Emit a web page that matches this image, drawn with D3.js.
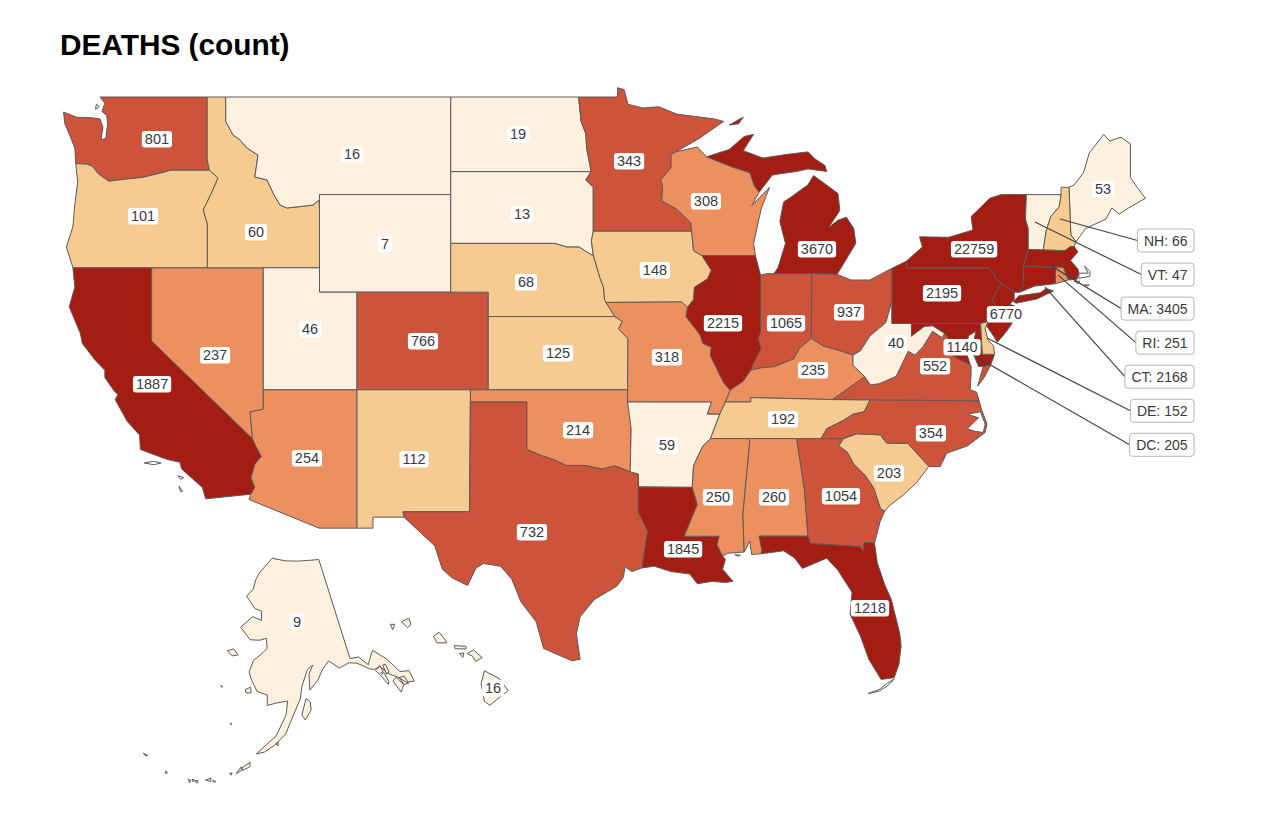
<!DOCTYPE html>
<html><head><meta charset="utf-8">
<script src="https://cdn.jsdelivr.net/npm/d3@7"></script>
<style>html,body{margin:0;background:#fff}svg{display:block}text{font-family:"Liberation Sans",Arial,sans-serif}</style>
</head><body><svg id="c" width="1278" height="828"></svg>
<script>
// ---------- values ----------
const stateNames=["WA","OR","CA","NV","ID","MT","WY","UT","AZ","CO","NM","ND","SD","NE","KS","OK","TX","MN","IA","MO","AR","LA","WI","IL","MI","IN","OH","KY","TN","MS","AL","GA","FL","SC","NC","VA","WV","PA","NY","ME","NJ","MD","AK","HI"];
const stateValues=[801,101,1887,237,60,16,7,46,254,766,112,19,13,68,125,214,732,343,148,318,59,1845,308,2215,3670,1065,937,235,192,250,260,1054,1218,203,354,552,40,2195,22759,53,6770,1140,9,16];
const labelLon=[-119.72,-120.46,-119.98,-116.62,-114.44,-109.32,-107.56,-111.56,-111.72,-105.53,-106.01,-100.46,-100.25,-100.04,-98.33,-97.26,-99.72,-94.54,-93.16,-92.52,-92.52,-91.66,-90.44,-89.53,-84.52,-86.17,-82.81,-84.73,-86.33,-89.8,-86.81,-83.24,-81.69,-80.68,-78.44,-78.22,-80.3,-77.85,-76.14,-69.26,-74.44,-76.78,-151.9,-155.5];
const labelLat=[47.28,44.12,37.24,38.43,43.47,46.66,42.98,39.49,34.2,39,34.16,47.48,44.2,41.42,38.51,35.35,31.17,46.38,41.91,38.34,34.74,30.48,44.74,39.74,42.77,39.74,40.19,37.81,35.8,32.61,32.61,32.65,28.06,33.59,35.23,37.98,38.92,40.97,42.77,45.23,40.11,38.75,65.3,19.6];
const calloutNames=["NH","VT","MA","RI","CT","DE","DC"];
const calloutValues=[66,47,3405,251,2168,152,205];
const calloutLon=[-71.56,-72.89,-72.09,-71.66,-72.36,-75.45,-76.2];
const calloutLat=[44.0,43.88,42.11,41.7,41.21,39.12,38.43];
const bandBreaks=[60,210,330,1100];
const bandColors=["#fdf0df","#f5cb92","#ec9060","#cd533b","#a31d12"];
const titleText="DEATHS (count)";

// ---------- shared borders, lon/lat ----------
const r=a=>[...a].reverse();
const waCoast=[[-122.76,49],[-122.5,48.75],[-122.65,48.4],[-122.4,48.25],[-122.35,47.9],[-122.45,47.3],[-122.7,47.25],[-122.6,47.75],[-122.75,48.1],[-123.2,48.15],[-124,48.17],[-124.7,48.38],[-124.63,47.9],[-124.3,47.3],[-124.1,46.9],[-124.05,46.27]];
const columbia=[[-124.05,46.27],[-123.45,46.25],[-123.15,46.15],[-122.85,45.85],[-122.3,45.55],[-121.2,45.65],[-120.5,45.7],[-119.3,45.93],[-119,46],[-116.92,46]];
const snake=[[-116.92,46],[-116.46,45.68],[-116.85,45],[-117.25,44.37],[-117.03,43.8],[-117.03,42]];
const orCoast=[[-124.05,46.27],[-123.95,45.5],[-124.1,44.6],[-124.2,43.7],[-124.55,42.85],[-124.2,42]];
const bitterroot=[[-116.05,48],[-115.66,47.44],[-115.3,47.25],[-114.9,46.9],[-114.33,46.62],[-114.5,45.72],[-113.85,45.6],[-113.45,44.95],[-113.15,44.57],[-112.78,44.45],[-111.4,44.57],[-111.07,44.78],[-111.05,44.47]];
const caCoast=[[-124.2,42],[-124.1,41.2],[-124.4,40.4],[-123.8,39.3],[-123.7,38.9],[-123,38.2],[-122.5,37.8],[-122.5,37.5],[-122,36.95],[-121.8,36.8],[-121.95,36.6],[-121.3,35.7],[-120.65,35.15],[-120.6,34.55],[-119.2,34.15],[-118.5,34.03],[-118.4,33.75],[-117.3,33],[-117.12,32.53]];
const coloradoRiver=[[-114.72,32.72],[-114.5,33],[-114.7,33.4],[-114.5,33.95],[-114.15,34.27],[-114.45,34.7],[-114.63,35]];
const redNorth=[[-97.23,49],[-97.1,48],[-96.85,47.5],[-96.8,46.9],[-96.56,45.94]];
const sdMN=[[-96.56,45.94],[-96.85,45.6],[-96.45,45.3],[-96.45,43.5]];
const sdIA=[[-96.45,43.5],[-96.55,43.1],[-96.44,42.49]];
const sdSouth=[[-104.05,43],[-98.5,43],[-97.85,42.85],[-97.2,42.85],[-96.7,42.6],[-96.44,42.49]];
const moNE_IA=[[-96.44,42.49],[-96.25,42],[-96.1,41.6],[-95.9,41.2],[-95.85,40.7],[-95.77,40.58]];
const moNE_MO=[[-95.77,40.58],[-95.3,40]];
const moKS=[[-95.3,40],[-94.9,39.8],[-95.1,39.5],[-94.6,39.1]];
const redSouth=[[-94.48,33.64],[-95.3,33.88],[-96,33.75],[-96.9,33.9],[-97.9,33.9],[-98.5,34.12],[-99.2,34.3],[-100,34.56]];
const sabine=[[-94.04,31.99],[-93.55,31.2],[-93.7,30.5],[-93.85,29.7]];
const missMN=[[-92.8,44.75],[-92,44.4],[-91.25,43.85],[-91.2,43.5]];
const missIAWI=[[-91.2,43.5],[-91.1,42.7],[-90.65,42.5]];
const missIAIL=[[-90.65,42.5],[-90.15,41.9],[-90.35,41.55],[-91.05,41.2],[-91.1,40.7],[-91.42,40.38]];
const missMOIL=[[-91.42,40.38],[-91.5,40],[-90.75,39.25],[-90.6,38.9],[-90.15,38.75],[-90.2,38.4],[-89.5,37.3],[-89.15,36.98]];
const missTN=[[-89.4,36.5],[-89.7,36]];
const missARTN=[[-89.7,36],[-90.2,35]];
const missARMS=[[-90.2,35],[-90.6,34.7],[-91.1,33.9],[-91.17,33]];
const missLAMS=[[-91.17,33],[-90.9,32.3],[-91.6,31],[-89.73,31],[-89.85,30.65],[-89.55,30.18]];
const ohioIL=[[-89.15,36.98],[-88.45,37.35],[-88.05,37.8]];
const ohioIN=[[-88.05,37.8],[-87.5,37.9],[-86.8,37.95],[-86.3,38.1],[-85.75,38.27],[-85.45,38.7],[-84.82,39.1]];
const ohioOH=[[-84.82,39.1],[-84.2,38.8],[-83.3,38.6],[-82.6,38.42]];
const ohioWV=[[-82.6,38.42],[-82.2,38.6],[-81.7,39.2],[-80.85,39.75],[-80.52,40.64]];
const wabash=[[-87.53,39.35],[-87.65,39.1],[-87.5,38.7],[-87.95,38],[-88.05,37.8]];
const savannah=[[-83.1,35],[-83.35,34.7],[-82.9,34.45],[-82.55,33.95],[-81.95,33.5],[-81.5,33],[-81.12,32.12],[-80.9,32.03]];
const ncSC=[[-83.1,35],[-82.4,35.2],[-81.05,35.15],[-81.05,35.05],[-80.8,34.82],[-79.67,34.8],[-78.55,33.86]];
const tnNC=[[-81.68,36.59],[-82,36.1],[-82.6,36],[-83.1,35.75],[-84,35.4],[-84.3,35]];
const potomac=[[-76.3,38],[-76.95,38.25],[-77.3,38.4],[-77.05,38.8],[-77.5,39.1],[-77.72,39.32]];
const vaWV=[[-77.72,39.32],[-77.83,39.13],[-78.35,39.4],[-78.87,38.76],[-79.3,38.42],[-79.65,38.58],[-80.3,37.55],[-81.2,37.25],[-81.68,37.2],[-81.97,37.54]];
const delaware=[[-75.35,42],[-75.05,41.75],[-75.05,41.6],[-74.7,41.36]];
const delawareNJ=[[-74.7,41.36],[-75.05,40.85],[-75.2,40.68],[-74.75,40.2],[-75.15,39.9],[-75.4,39.8]];
const vtRiver=[[-71.5,45],[-71.6,44.5],[-72.05,44.1],[-72.3,43.5],[-72.45,42.73]];

// ---------- outlines, lon/lat ----------
const outlines={
WA:[[[-122.76,49],[-117.04,49],[-117.04,46.42],...r(columbia),...r(waCoast)]],
OR:[[...columbia,...snake,[-124.2,42],...r(orCoast)]],
CA:[[...caCoast,[-114.72,32.72],...coloradoRiver,[-120,39],[-120,42]]],
NV:[[[-120,42],[-114.05,42],[-114.05,36.2],[-114.75,36.1],[-114.63,35],[-120,39]]],
ID:[[[-117.04,49],[-116.05,49],...bitterroot,[-111.05,42],...r(snake),[-117.04,46.42]]],
MT:[[[-116.05,49],[-104.05,49],[-104.05,45],[-111.05,45],...r(bitterroot)]],
WY:[[[-111.05,45],[-104.05,45],[-104.05,41],[-111.05,41]]],
UT:[[[-114.05,42],[-111.05,42],[-111.05,41],[-109.05,41],[-109.05,37],[-114.05,37]]],
AZ:[[[-114.05,37],[-109.05,37],[-109.05,31.33],[-111.07,31.33],[-114.8,32.5],...coloradoRiver,[-114.75,36.1],[-114.05,36.2]]],
CO:[[[-109.05,41],[-102.05,41],[-102.05,37],[-109.05,37]]],
NM:[[[-109.05,37],[-103,37],[-103.05,32],[-106.6,32],[-106.53,31.78],[-108.2,31.78],[-108.2,31.33],[-109.05,31.33]]],
ND:[[[-104.05,49],...redNorth,[-104.05,45.94]]],
SD:[[[-104.05,45.94],...sdMN,...sdIA,...r(sdSouth)]],
NE:[[...sdSouth,...moNE_IA,...moNE_MO,[-102.05,40],[-102.05,41],[-104.05,41]]],
KS:[[[-102.05,40],...moKS,[-94.62,37],[-102.05,37]]],
OK:[[[-103,37],[-94.62,37],[-94.43,35.4],...redSouth,[-100,36.5],[-103,36.5]]],
TX:[[[-103,36.5],[-100,36.5],...r(redSouth),[-94.04,33.55],[-94.04,33.02],...sabine,[-94.4,29.55],[-94.75,29.75],[-94.85,29.3],[-95.2,28.95],[-96.4,28.4],[-97.15,27.7],[-97.35,27],[-97.15,25.95],[-97.6,25.9],[-99.1,26.4],[-99.5,27.5],[-100.3,28.3],[-100.8,29.25],[-101.4,29.77],[-102.3,29.88],[-102.7,29.7],[-103.15,28.98],[-104,29.3],[-104.5,29.65],[-104.9,30.6],[-106.5,31.75],[-106.6,32],[-103.05,32]]],
MN:[[...redNorth.slice(0,1),[-95.15,49],[-95.15,49.38],[-94.8,49.3],[-94.6,48.7],[-93.8,48.55],[-92.95,48.6],[-92,48.3],[-91,48.2],[-90,48.1],[-89.5,48],[-90.8,47.3],[-92.05,46.75],[-92.3,46.65],[-92.3,46.1],[-92.85,45.6],[-92.75,45.3],...missMN,[-96.45,43.5],...r(sdMN),...r(redNorth)]],
IA:[[[-96.45,43.5],...missIAWI,...missIAIL,[-91.73,40.6],...r(moNE_IA),...r(sdIA)]],
MO:[[[-95.77,40.58],[-91.73,40.6],...missMOIL,...missTN,[-90.37,36],[-90.15,36.5],[-94.62,36.5],[-94.62,37],...r(moKS),...r(moNE_MO)]],
AR:[[[-94.62,36.5],[-90.15,36.5],[-90.37,36],...missARTN,...missARMS,[-94.04,33.02],[-94.04,33.55],[-94.48,33.64],[-94.43,35.4]]],
LA:[[[-94.04,33.02],...missLAMS,[-89.4,30.05],[-89.55,29.65],[-89,29.15],[-89.4,29.1],[-90.1,29.15],[-90.9,29.05],[-91.3,29.45],[-91.8,29.5],[-92.3,29.55],[-93.2,29.77],[-93.85,29.7],...r(sabine)]],
WI:[[[-92.3,46.65],[-92.05,46.75],[-90.9,46.95],[-90.4,46.55],[-89.1,46.15],[-88.1,45.9],[-87.85,45.35],[-87.6,45.1],[-88,44.55],[-87.05,45.3],[-87.5,44.4],[-87.9,43],[-87.8,42.5],...r(missIAWI),...r(missMN),[-92.75,45.3],[-92.85,45.6],[-92.3,46.1]]],
IL:[[[-90.65,42.5],[-87.8,42.5],[-87.53,41.7],...wabash,...r(ohioIL),...r(missMOIL),...r(missIAIL)]],
MI:[[[-90.4,46.55],[-89.2,46.85],[-88.4,47.38],[-87.9,47.47],[-88.45,46.8],[-87.4,46.5],[-86.1,46.65],[-85,46.75],[-84.6,46.45],[-84.1,46.2],[-84,45.95],[-85,46.05],[-85.6,45.95],[-86.5,45.85],[-86.9,45.8],[-87.6,45.1],[-87.85,45.35],[-88.1,45.9],[-89.1,46.15]],
[[-86.82,41.76],[-84.8,41.76],[-83.45,41.73],[-83.15,42.1],[-82.45,43],[-82.55,43.6],[-82.95,44.07],[-83.4,43.95],[-83.9,43.65],[-83.3,44.35],[-83.4,45.05],[-84.7,45.78],[-85,45.4],[-85.55,45.1],[-85.9,44.9],[-86.3,44.7],[-86.5,43.9],[-86.2,43],[-86.6,42]],
[[-89.2,47.85],[-88.45,48.18],[-88.7,47.9]]],
IN:[[[-87.53,41.7],[-87.2,41.76],[-86.82,41.76],[-84.8,41.76],...r(ohioIN),...r(wabash)]],
OH:[[[-84.8,41.76],[-83.45,41.73],[-82.7,41.5],[-81.7,41.5],[-80.52,41.98],...r(ohioWV),...r(ohioOH)]],
KY:[[[-89.4,36.5],[-89.15,36.98],...ohioIL,...ohioIN,...ohioOH,[-82.6,38],[-81.97,37.54],[-83.68,36.6],[-88.05,36.68],[-88.05,36.5]]],
TN:[[...missTN,...missARTN,[-84.3,35],...r(tnNC),[-83.68,36.6],[-88.05,36.68],[-88.05,36.5]]],
MS:[[[-90.2,35],[-88.2,35],[-88.1,34.9],[-88.47,31.9],[-88.4,30.35],[-89.3,30.3],...r(missLAMS),...r(missARMS)]],
AL:[[[-88.2,35],[-85.6,35],[-85.18,32.87],[-85,31],[-87.6,31],[-87.45,30.4],[-87.5,30.28],[-88,30.25],[-88.1,30.8],[-88.4,30.35],[-88.47,31.9],[-88.1,34.9]]],
GA:[[[-85.6,35],...savannah,[-81.15,31.6],[-81.45,30.72],[-82,30.75],[-82.05,30.36],[-82.2,30.57],[-84.86,30.7],[-85,31],[-85.18,32.87]]],
FL:[[[-87.6,31],[-85,31],[-84.86,30.7],[-82.2,30.57],[-82.05,30.36],[-82,30.75],[-81.45,30.72],[-81.3,29.9],[-80.9,29],[-80.55,28.4],[-80.1,27],[-80.03,26.5],[-80.15,25.75],[-80.4,25.2],[-81.1,25.13],[-81.75,25.95],[-82.2,26.9],[-82.75,27.8],[-82.65,28.7],[-83.4,29.6],[-84,30.1],[-85.3,29.68],[-85.7,30.1],[-86.3,30.4],[-87.5,30.28],[-87.45,30.4]]],
SC:[[...ncSC,[-79.2,33.2],[-79.9,32.7],[-80.65,32.25],...r(savannah)]],
NC:[[[-81.68,36.59],[-75.87,36.55],[-75.75,36.2],[-75.45,35.6],[-75.55,35.25],[-76.5,34.7],[-77.6,34.4],[-77.95,33.85],[-78.55,33.86],...r(ncSC),[-84.3,35],...r(tnNC)]],
VA:[[[-83.68,36.6],[-81.68,36.59],[-75.87,36.55],[-76,36.9],[-76.35,37],[-76.3,37.6],...potomac,...vaWV],[[-75.95,37.15],[-75.65,37.95],[-75.25,38.03],[-75.6,37.5]]],
WV:[[...ohioWV,[-80.52,39.72],[-79.48,39.72],[-79.48,39.2],[-78.8,39.6],[-78.35,39.63],...vaWV,[-82.6,38]]],
PA:[[[-80.52,41.98],[-79.76,42.27],[-79.76,42],...delaware,...delawareNJ,[-75.79,39.72],[-80.52,39.72]]],
NY:[[[-79.76,42],[-79.76,42.27],[-78.9,42.85],[-79.05,43.27],[-77.5,43.25],[-76.2,43.55],[-76.3,44.1],[-75.3,44.85],[-74.7,45],[-73.35,45],[-73.4,44],[-73.25,43.6],[-73.25,42.75],[-73.5,42.05],[-73.5,41.3],[-73.7,41],[-74,41],...r(delaware)],[[-74.05,40.62],[-73.75,40.85],[-72.6,40.98],[-72.3,41.15],[-71.9,41.05],[-72.8,40.72],[-73.9,40.55]]],
ME:[[[-71.08,45.3],[-70.8,45.4],[-70.3,45.9],[-70,46.7],[-69.23,47.46],[-68.9,47.2],[-68.3,47.35],[-67.8,47.07],[-67.8,45.7],[-67.45,45.3],[-67,44.85],[-67.9,44.45],[-68.4,44.2],[-68.8,44.45],[-69.1,44],[-69.8,43.75],[-70.2,43.6],[-70.7,43.07],[-70.98,43.35]]],
NJ:[[[-74.7,41.36],[-74,41],[-74,40.7],[-74.25,40.5],[-74,40.45],[-74.1,39.75],[-74.4,39.4],[-74.9,38.95],[-75.1,39.2],[-75.5,39.65],...r(delawareNJ).slice(1)]],
MD:[[[-79.48,39.72],[-75.79,39.72],[-75.7,38.46],[-75.05,38.45],[-75.25,38.03],[-75.65,37.95],[-75.9,37.95],[-76.25,38.6],[-76.05,39.4],[-76.45,39.2],[-76.55,38.5],[-76.35,38.05],...potomac.slice(1),[-78.35,39.63],[-78.8,39.6],[-79.48,39.2]]],
VT:[[[-73.35,45],...vtRiver,[-73.25,42.75],[-73.25,43.6],[-73.4,44]]],
NH:[[[-71.5,45.3],[-71.08,45.3],[-70.98,43.35],[-70.7,43.07],[-70.8,42.87],[-71,42.87],[-71.3,42.7],...r(vtRiver)]],
MA:[[[-73.5,42.05],[-73.25,42.75],[-72.45,42.73],[-71.3,42.7],[-71,42.87],[-70.8,42.87],[-70.6,42.65],[-71,42.3],[-70.6,41.95],[-70.55,41.78],[-70.65,41.53],[-71.12,41.5],[-71.38,42.02]]],
CT:[[[-73.5,42.05],[-71.8,42.02],[-71.8,41.35],[-72.9,41.25],[-73.7,41],[-73.5,41.3]]],
RI:[[[-71.8,42.02],[-71.38,42.02],[-71.12,41.5],[-71.8,41.35]]],
DE:[[[-75.79,39.72],[-75.4,39.8],[-75.55,39.5],[-75.4,39.05],[-75.1,38.8],[-75.05,38.45],[-75.7,38.46]]],
DC:[[[-77.12,38.93],[-77.04,39],[-76.91,38.9],[-77.04,38.79]]],
AK:[[[-141,69.65],[-141,60.3],[-139,60],[-137.5,58.9],[-136.5,59.4],[-135.5,59.8],[-134,58.8],[-133.4,58.4],[-131.8,56.6],[-130.1,56.1],[-130,55],[-131.5,55.4],[-132.8,56.4],[-134.3,57.2],[-135.3,58.2],[-136.5,58.2],[-137.5,58.5],[-139.8,59.6],[-141.5,60],[-144,60],[-146,61],[-148,60.5],[-149.5,59.8],[-151.8,59.2],[-151.3,60.6],[-150,61.2],[-151.5,61],[-153.5,59.7],[-154.3,58.7],[-156.3,57.5],[-158.5,56],[-161,55.2],[-163.2,54.7],[-164.9,54.6],[-162.8,55.3],[-160.5,56],[-158,57.6],[-157.2,58.8],[-158.6,58.8],[-160,58.8],[-162,58.7],[-161.8,59.6],[-164.2,60],[-165.4,61],[-166,61.7],[-164.8,62.7],[-163,63.1],[-161,63.6],[-161,64.5],[-162.8,64.4],[-165.5,64.5],[-168.1,65.6],[-164.5,66.5],[-162,66.1],[-161.8,66.9],[-163.8,67.2],[-166.2,68.3],[-164,68.9],[-163,69.7],[-161.5,70.3],[-156.6,71.35],[-152,70.8],[-148,70.4],[-144,70]],
[[-154.5,57.3],[-153.9,56.8],[-152.3,57.5],[-152.2,58.2],[-153,58.6]],
[[-171.7,63.5],[-170,63.7],[-168.8,63.2],[-170.3,63.1]],
[[-167,60.2],[-165.7,60.4],[-165.6,59.9],[-166.8,59.9]],
[[-167.9,53.4],[-166.2,53.9],[-166.3,53.5],[-167.7,53.2]],
[[-169,52.9],[-168,53.5],[-167.9,53.2]],
[[-170.3,52.9],[-169.8,52.95],[-170,52.75]],
[[-173.6,52.15],[-172.9,52.1],[-173.2,52]],
[[-174.9,52.1],[-173.9,52.35],[-173.9,52.05]],
[[-176.9,51.9],[-176.3,51.95],[-176.5,51.7]],
[[-177.5,51.95],[-177,51.95],[-177.2,51.75]],
[[-178.2,51.9],[-177.7,51.85],[-177.9,51.6]],
[[177.3,52.1],[177.7,52],[177.4,51.85]],
[[172.5,52.9],[173.4,52.85],[172.9,52.75]],
[[-170.4,57.25],[-170.1,57.25],[-170.2,57.12]],
[[-172.9,60.45],[-172.5,60.4],[-172.7,60.3]],
[[-160.8,55.3],[-160.2,55.4],[-160.3,55.1]],
[[-133.9,56.3],[-133,56.4],[-132.2,55.4],[-133.2,55]],
[[-135.8,57.4],[-135,57.5],[-134.7,56.5],[-135,56.3]],
[[-136.5,58.1],[-135.2,58.2],[-135,57.6],[-136,57.6]],
[[-134.6,58.1],[-134,58],[-133.9,57.2],[-134.6,57.2]],
[[-132.5,56.2],[-131.4,56],[-131.2,55.2],[-132.1,55.4]]],
HI:[[[-155.9,20.25],[-155.2,19.95],[-154.8,19.5],[-155.65,18.95],[-155.9,19.1],[-156.05,19.75]],
[[-156.7,20.9],[-156.4,21.03],[-156,20.75],[-156.3,20.6],[-156.45,20.8]],
[[-158.25,21.55],[-158,21.7],[-157.7,21.4],[-157.65,21.3],[-158.1,21.3]],
[[-159.75,22.1],[-159.4,22.23],[-159.3,22],[-159.45,21.87]],
[[-157.3,21.2],[-156.75,21.17],[-156.75,21.07],[-157.25,21.08]],
[[-157.05,20.9],[-156.85,20.92],[-156.9,20.75]],
[[-160.25,22],[-160.05,22],[-160.15,21.8]]]
};
const waterOutlines=[
[[-76.1,35.3],[-75.65,35.25],[-75.55,35.6],[-75.8,36.1],[-76.5,36],[-75.9,35.85],[-76.5,35.4]],
[[-70.55,41.78],[-70.05,41.78],[-70.25,42.07],[-69.95,41.85],[-69.97,41.65],[-70.55,41.57]],
[[-70.8,41.45],[-70.5,41.45],[-70.6,41.35]],
[[-70.25,41.3],[-70,41.3],[-70.1,41.25]],
[[-80.4,25.15],[-80.7,24.9],[-81.2,24.65],[-81.8,24.55],[-81.2,24.72],[-80.75,24.98]],
[[-88.9,30.25],[-88.6,30.22],[-88.75,30.18]],
[[-122.95,48.7],[-122.8,48.6],[-123,48.5]],
[[-120.4,34],[-119.9,34.07],[-119.5,34],[-119.9,33.93]],
[[-118.6,33.48],[-118.3,33.4],[-118.45,33.33]],
[[-118.55,33.05],[-118.35,32.85],[-118.45,32.82]]
];
// Alaska inset registration: lon/lat read against their place in the picture
const akLon=[-141,-141,-156.6,-168.1,-130,-130,-164.9,-167,-176.5,172.9,-153.3,-150,-170,-166.3];
const akLat=[69.65,60.3,71.35,65.6,55,56,54.6,53.5,51.8,52.85,57.5,61.2,63.4,60.1];
const akX=[322,350,270,237,407,415,260,243,193,152,305,323,229,246];
const akY=[560,657,560,625,690,668,750,767,783,760,707,665,652,689];

// ---------- scales ----------
const svg=d3.select("#c");
const x48=d3.scaleLinear().domain([-124.73,-66.95]).range([63,1146.4]);
const y48=d3.scaleLinear().domain([49,25]).range([97,682.6]);
const xHI=d3.scaleLinear().domain([-159.53,-155.5]).range([406,493]);
const yHI=d3.scaleLinear().domain([22.05,19.6]).range([623,688]);
const planar=(fx,fy)=>d3.geoPath(d3.geoTransform({point(a,b){this.stream.point(fx(a),fy(b));}}));
const path48=planar(x48,y48),pathHI=planar(xHI,yHI);

const orient=ring=>{
  const c=ring[0]===ring[ring.length-1]?ring:[...ring,ring[0]];
  return d3.geoArea({type:"Polygon",coordinates:[c]})>2*Math.PI?[[...c].reverse()]:[c];
};
const feature=key=>({type:"Feature",properties:{key},geometry:{type:"MultiPolygon",coordinates:outlines[key].map(orient)}});

// Conic base + least-squares affine onto the inset
const akBase=d3.geoConicEqualArea().parallels([55,65]).rotate([154,0]).scale(1000).translate([0,0]);
const akBasePts=akLon.map((l,i)=>akBase([l,akLat[i]]));
function fitAffine(pts,targets){
  const A=[[0,0,0],[0,0,0],[0,0,0]],B=[0,0,0];
  pts.forEach((p,i)=>{const v=[p[0],p[1],1];for(let a=0;a<3;a++){B[a]+=v[a]*targets[i];for(let b=0;b<3;b++)A[a][b]+=v[a]*v[b];}});
  const det=m=>m[0][0]*(m[1][1]*m[2][2]-m[1][2]*m[2][1])-m[0][1]*(m[1][0]*m[2][2]-m[1][2]*m[2][0])+m[0][2]*(m[1][0]*m[2][1]-m[1][1]*m[2][0]);
  const D=det(A);
  return [0,1,2].map(c=>det(A.map((row,i)=>row.map((v,j)=>j===c?B[i]:v)))/D);
}
const ax=fitAffine(akBasePts,akX),ay=fitAffine(akBasePts,akY);
const akMap=([x,y])=>[ax[0]*x+ax[1]*y+ax[2],ay[0]*x+ay[1]*y+ay[2]];
const akAffine=d3.geoTransform({point(x,y){const q=akMap([x,y]);this.stream.point(q[0],q[1]);}});
const pathAK=d3.geoPath({stream:s=>akBase.stream(akAffine.stream(s))});

const pathFor=k=>k==="AK"?pathAK:k==="HI"?pathHI:path48;
const pointFor=(k,lon,lat)=>k==="AK"?akMap(akBase([lon,lat])):k==="HI"?[xHI(lon),yHI(lat)]:[x48(lon),y48(lat)];

const valueOf=new Map(stateNames.map((n,i)=>[n,stateValues[i]]));
calloutNames.forEach((n,i)=>valueOf.set(n,calloutValues[i]));
const color=d3.scaleThreshold().domain(bandBreaks).range(bandColors);

// ---------- map ----------
const drawOrder=[...stateNames.filter(k=>k!=="MD"),"MD","VT","NH","MA","CT","RI","DE","DC"];
svg.append("g").selectAll("path").data(drawOrder.map(feature)).join("path")
  .attr("d",d=>pathFor(d.properties.key)(d))
  .attr("fill",d=>color(valueOf.get(d.properties.key)))
  .attr("stroke","#5e5a58").attr("stroke-width",1).attr("stroke-linejoin","round");
svg.append("g").selectAll("path").data(waterOutlines).join("path")
  .attr("d",d=>path48({type:"Polygon",coordinates:[[...d,d[0]]]}))
  .attr("fill","#fff").attr("stroke","#5e5a58").attr("stroke-width",1);

// ---------- title ----------
svg.append("text").attr("x",60).attr("y",54.5).attr("font-size",29.8).attr("font-weight",700).attr("fill","#000").text(titleText);

// ---------- callouts ----------
const boxRight=1194,boxStep=34.05,boxTop=229,boxH=23;
const callouts=calloutNames.map((n,i)=>({n,v:calloutValues[i],lon:calloutLon[i],lat:calloutLat[i],i}));
svg.append("g").selectAll("g").data(callouts).join("g").each(function(d){
  const g=d3.select(this),y=boxTop+d.i*boxStep;
  const line=g.append("line").attr("stroke","#444").attr("stroke-width",1.2);
  const rect=g.append("rect").attr("fill","#fff").attr("stroke","#b5b5b5").attr("rx",3);
  const t=g.append("text").attr("font-size",14).attr("fill","#3a3a3a").attr("text-anchor","middle").text(`${d.n}: ${d.v}`);
  const w=t.node().getComputedTextLength()+13,x0=boxRight-w;
  rect.attr("x",x0).attr("y",y).attr("width",w).attr("height",boxH);
  t.attr("x",x0+w/2).attr("y",y+16.5);
  line.attr("x1",x48(d.lon)).attr("y1",y48(d.lat)).attr("x2",x0).attr("y2",y+boxH/2);
});

// ---------- labels ----------
const labels=stateNames.map((n,i)=>({n,v:stateValues[i],p:pointFor(n,labelLon[i],labelLat[i])}));
svg.append("g").selectAll("g").data(labels).join("g").attr("transform",d=>`translate(${d.p[0]},${d.p[1]})`).each(function(d){
  const g=d3.select(this);
  const rect=g.append("rect").attr("fill","#fff").attr("rx",3);
  const t=g.append("text").attr("font-size",14.5).attr("fill","#3a3a3a").attr("text-anchor","middle").attr("y",5).text(d.v);
  const w=t.node().getComputedTextLength()+6;
  rect.attr("x",-w/2).attr("y",-8).attr("width",w).attr("height",16.5);
});
</script></body></html>
